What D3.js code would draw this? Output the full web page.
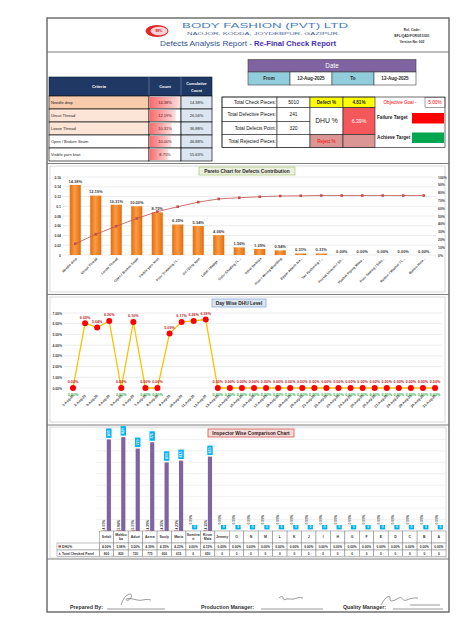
<!DOCTYPE html>
<html>
<head>
<meta charset="utf-8">
<script src="https://cdn.jsdelivr.net/npm/d3@7"></script>
<style>
  body { margin: 0; background: #fff; }
  svg { display: block; font-family: "Liberation Sans Narrow", "Liberation Sans", Arial, sans-serif; }
</style>
</head>
<body>
<script>
// ---------------- data ----------------
const fromDate = "12-Aug-2025";
const toDate = "12-Aug-2025";

const summaryLabels = ["Total Check Pieces:", "Total Defective Pieces:", "Total Defects Point:", "Total Rejected Pieces:"];
const summaryValues = ["5010", "241", "320", ""];
const defectPct = 4.81;
const dhuPct = 6.39;
const objectiveGoal = 5.00;

const defectNames = ["Needle drop", "Uncut Thread", "Loose Thread", "Open / Broken Seam", "Visible yarn knot",
  "Poor Trimming / L...", "Oil / Dirty spot", "Label / Badge ...", "Color Shading / L...", "Other Defects",
  "Poor / Wrong Moulding", "Zipper Attach Iss...", "Tan Puckering / ...", "Pocket Uneven / Sh...",
  "Placket Piping Wavy...", "Poor Sewing / Stitc...", "Button / Washer / L...", "Button Hole..."];
const defectShare = [14.38, 12.19, 10.31, 10.00, 8.75, 6.25, 5.94, 4.06, 1.56, 1.25, 0.94, 0.31, 0.31, 0, 0, 0, 0, 0];
const cumulativeShare = [14.38, 26.56, 36.88, 46.88, 55.63, 61.88, 67.81, 71.88, 73.44, 74.69, 75.63, 75.94, 76.25, 76.25, 76.25, 76.25, 76.25, 76.25];

const dayLabels = ["1-Aug-25", "2-Aug-25", "3-Aug-25", "4-Aug-25", "5-Aug-25", "6-Aug-25", "7-Aug-25", "8-Aug-25",
  "9-Aug-25", "10-Aug-25", "11-Aug-25", "12-Aug-25", "13-Aug-25", "14-Aug-25", "15-Aug-25", "16-Aug-25",
  "17-Aug-25", "18-Aug-25", "19-Aug-25", "20-Aug-25", "21-Aug-25", "22-Aug-25", "23-Aug-25", "24-Aug-25",
  "25-Aug-25", "26-Aug-25", "27-Aug-25", "28-Aug-25", "29-Aug-25", "30-Aug-25", "31-Aug-25"];
const dayDhu = [0, 6.05, 5.64, 6.26, 0, 6.16, 0, 0, 5.09, 6.17, 6.26, 6.39, 0, 0, 0, 0,
  0, 0, 0, 0, 0, 0, 0, 0, 0, 0, 0, 0, 0, 0, 0];

const inspectorNames = ["Sefali", "Mahbu\nba", "Aduri", "Asma", "Souly", "Maria", "Sumitra\nn", "Kiron\nMala",
  "Jemmy", "O", "N", "M", "L", "K", "J", "I", "H", "G", "F", "E", "D", "C", "B", "A"];
const inspectorDhu = [4.00, 5.98, 5.00, 4.39, 4.35, 4.23, 0, 4.15, 0, 0, 0, 0, 0, 0, 0, 0, 0, 0, 0, 0, 0, 0, 0, 0];
const inspectorChecked = [800, 820, 720, 775, 600, 615, 0, 650, 0, 0, 0, 0, 0, 0, 0, 0, 0, 0, 0, 0, 0, 0, 0, 0];

// ---------------- page ----------------
let svg = d3.select('body').append('svg')
  .attr('width', 474)
  .attr('height', 632);

let defs = svg.append('defs');
let barGrad = defs.append('linearGradient').attr('id', 'barGrad').attr('x1', 0).attr('x2', 1);
barGrad.append('stop').attr('offset', 0).attr('stop-color', '#e36c0a');
barGrad.append('stop').attr('offset', 0.45).attr('stop-color', '#fb9c48');
barGrad.append('stop').attr('offset', 1).attr('stop-color', '#e36c0a');
let dataBar = defs.append('linearGradient').attr('id', 'dataBar').attr('x1', 0).attr('x2', 1);
dataBar.append('stop').attr('offset', 0).attr('stop-color', '#f8696b');
dataBar.append('stop').attr('offset', 1).attr('stop-color', '#fde0e0');

function txt(g, x, y, s, o = {}) {
  return g.append('text')
    .attr('x', x).attr('y', y)
    .attr('font-size', o.size || 4)
    .attr('fill', o.fill || '#222')
    .attr('font-weight', o.bold ? 'bold' : null)
    .attr('text-anchor', o.anchor || 'middle')
    .text(s);
}
function cell(g, x, y, w, h, fill, stroke, sw) {
  return g.append('rect')
    .attr('x', x).attr('y', y).attr('width', w).attr('height', h)
    .attr('fill', fill || 'none')
    .attr('stroke', stroke || 'none')
    .attr('stroke-width', sw || 0.5);
}
const pct = v => v.toFixed(2) + '%';

// outer frame and section rules
cell(svg, 47, 18, 402, 594, 'none', '#595959', 1.3);
[52, 163.5, 294.5, 425, 559].forEach(y => {
  svg.append('line').attr('x1', 47).attr('x2', 449).attr('y1', y).attr('y2', y)
    .attr('stroke', '#7f7f7f').attr('stroke-width', 1.2);
});

// ---------------- header ----------------
let head = svg.append('g');
head.append('ellipse').attr('cx', 157).attr('cy', 31).attr('rx', 11.5).attr('ry', 6).attr('fill', '#e0262b');
head.append('ellipse').attr('cx', 159).attr('cy', 31).attr('rx', 8.5).attr('ry', 4.2).attr('fill', '#f7d3d4');
txt(head, 159, 32.4, 'BFL', { size: 3.6, bold: true, fill: '#e0262b' });

txt(head, 182, 28, 'BODY FASHION (PVT)  LTD', { size: 8, anchor: 'start', fill: '#4a7ebb' })
  .attr('textLength', 166).attr('lengthAdjust', 'spacingAndGlyphs');
txt(head, 187, 34.5, 'NAOJOR, KODDA, JOYDEBPUR, GAZIPUR.', { size: 4.2, anchor: 'start', fill: '#50689a' })
  .attr('textLength', 153).attr('lengthAdjust', 'spacingAndGlyphs');
txt(head, 160, 46, 'Defects Analysis Report - ', { size: 7, anchor: 'start', fill: '#2f4f8f' })
  .attr('textLength', 92).attr('lengthAdjust', 'spacingAndGlyphs');
txt(head, 254, 46, 'Re-Final Check Report', { size: 7, anchor: 'start', bold: true, fill: '#4630b0' })
  .attr('textLength', 82).attr('lengthAdjust', 'spacingAndGlyphs');

txt(head, 412, 31, 'Ref. Code:', { size: 3.3, bold: true, fill: '#333' });
txt(head, 412, 37, 'BFL/QAD/FOR/051/001', { size: 3.3, bold: true, fill: '#333' });
txt(head, 412, 43, 'Version No: 002', { size: 3.3, bold: true, fill: '#333' });

// date block
let dateG = svg.append('g');
cell(dateG, 248, 59.5, 168, 12.5, '#8064a2', '#3f3f3f', 0.6);
txt(dateG, 332, 68, 'Date', { size: 6.3, fill: '#fff' });
[[248, 'From', '#92cddc'], [290, fromDate, '#fff'], [332, 'To', '#92cddc'], [374, toDate, '#fff']].forEach(d => {
  cell(dateG, d[0], 72, 42, 13, d[2], '#3f3f3f', 0.6);
  txt(dateG, d[0] + 21, 80, d[1], { size: 4.6, bold: true, fill: '#1f1f1f' });
});

// ---------------- criteria table ----------------
let crit = svg.append('g');
const critFill = ['#f8cbad', '#fce4d6', '#fce4d6', '#ffffff', '#ffffff'];
const topCriteria = defectNames.slice(0, 5);
const topShare = defectShare.slice(0, 5);
const topCum = cumulativeShare.slice(0, 5);
let dataBarScale = d3.scaleLinear().domain([0, d3.max(topShare)]).range([0, 31]);

cell(crit, 49, 77, 163, 19, '#1f3864', '#0d1d3a', 0.6);
[149, 181].forEach(x => crit.append('line').attr('x1', x).attr('x2', x).attr('y1', 77).attr('y2', 96)
  .attr('stroke', '#8ea0c0').attr('stroke-width', 0.5));
txt(crit, 99, 88, 'Criteria', { size: 4, bold: true, fill: '#fff' });
txt(crit, 165, 88, 'Count', { size: 4, bold: true, fill: '#fff' });
txt(crit, 196.5, 85, 'Cumulative', { size: 3.8, bold: true, fill: '#fff' });
txt(crit, 196.5, 91.5, 'Count', { size: 3.8, bold: true, fill: '#fff' });

topCriteria.forEach((name, i) => {
  let y = 96 + i * 13;
  cell(crit, 49, y, 100, 13, critFill[i], '#111', 0.7);
  txt(crit, 51, y + 8, name, { size: 4, anchor: 'start', fill: '#222' });
  cell(crit, 149, y, 32, 13, '#fff', '#111', 0.7);
  cell(crit, 149.5, y + 1, dataBarScale(topShare[i]), 11, 'url(#dataBar)');
  txt(crit, 165, y + 8, pct(topShare[i]), { size: 4, fill: '#5a1010' });
  cell(crit, 181, y, 31, 13, '#dce6f1', '#111', 0.7);
  txt(crit, 196.5, y + 8, pct(topCum[i]), { size: 4, fill: '#222' });
});

// ---------------- summary block ----------------
let sum = svg.append('g');
const rowsY = [97, 107.5, 121.5, 134.5, 147.5];
summaryLabels.forEach((lab, i) => {
  let y = rowsY[i], h = rowsY[i + 1] - rowsY[i];
  cell(sum, 222, y, 55, h, '#fff', '#222', 0.6);
  txt(sum, 276, y + h / 2 + 1.7, lab, { size: 4.8, anchor: 'end', fill: '#111' });
  cell(sum, 277, y, 33, h, '#fff', '#222', 0.6);
  txt(sum, 293.5, y + h / 2 + 1.7, summaryValues[i], { size: 4.8, fill: '#111' });
});
cell(sum, 310, 97, 33, 10.5, '#ffff00', '#222', 0.6);
txt(sum, 326.5, 103.9, 'Defect %', { size: 4.6, bold: true, fill: '#222' });
cell(sum, 343, 97, 32, 10.5, '#ffff00', '#222', 0.6);
txt(sum, 359, 103.9, pct(defectPct), { size: 4.6, bold: true, fill: '#222' });
txt(sum, 400, 103.9, 'Objective Goal -', { size: 4.6, fill: '#ff0000' });
cell(sum, 425, 97.5, 20, 10, '#fff', '#444', 0.5);
txt(sum, 435, 104, pct(objectiveGoal), { size: 4.8, fill: '#ff0000' });

cell(sum, 310, 107.5, 33, 27, '#fff', '#222', 0.6);
txt(sum, 326.5, 123.2, 'DHU %', { size: 6.8, fill: '#222' });
cell(sum, 343, 107.5, 32, 27, '#f4585a', '#222', 0.6);
txt(sum, 359, 123, pct(dhuPct), { size: 5.2, fill: '#fff' });

txt(sum, 377, 118.5, 'Failure Target', { size: 4.7, anchor: 'start', bold: true, fill: '#222' });
cell(sum, 412, 113, 32, 10.5, '#ff0000');
txt(sum, 377, 139, 'Achieve Target', { size: 4.7, anchor: 'start', bold: true, fill: '#222' });
cell(sum, 412, 132.5, 32, 10.5, '#00a550');

cell(sum, 310, 134.5, 33, 13, '#da9694', '#222', 0.6);
txt(sum, 326.5, 142.6, 'Reject %', { size: 4.6, fill: '#ff0000' });
cell(sum, 343, 134.5, 32, 13, '#da9694', '#222', 0.6);
cell(sum, 222, 97, 223, 50.5, 'none', '#333', 0.7);

// ---------------- pareto chart ----------------
let par = svg.append('g');
cell(par, 50, 166, 395, 126, '#fff', '#bfbfbf', 0.6);

let pX = d3.scaleBand().domain(defectNames).range([65, 434]).paddingInner(0.46).paddingOuter(0.23);
let pYL = d3.scaleLinear().domain([0, 0.16]).range([255, 177]);
let pYR = d3.scaleLinear().domain([0, 1]).range([255, 177]);

par.append('g').selectAll('line').data(pYL.ticks(8)).enter().append('line')
  .attr('x1', 63).attr('x2', 436)
  .attr('y1', d => pYL(d)).attr('y2', d => pYL(d))
  .attr('stroke', '#d9d9d9').attr('stroke-width', 0.5);

let pAxisL = par.append('g').attr('transform', 'translate(63,0)')
  .call(d3.axisLeft(pYL).ticks(8).tickSize(0).tickPadding(2).tickFormat(d => String(+d.toFixed(2))));
let pAxisR = par.append('g').attr('transform', 'translate(436,0)')
  .call(d3.axisRight(pYR).ticks(10).tickSize(0).tickPadding(2).tickFormat(d3.format('.0%')));
[pAxisL, pAxisR].forEach(a => {
  a.select('.domain').remove();
  a.selectAll('text').attr('font-size', 3.4).attr('font-weight', 'bold').attr('fill', '#404040').attr('font-family', null);
});

par.selectAll('rect.bar').data(defectShare).enter().append('rect')
  .attr('class', 'bar')
  .attr('x', (d, i) => pX(defectNames[i]))
  .attr('y', d => pYL(d / 100))
  .attr('width', pX.bandwidth())
  .attr('height', d => pYL(0) - pYL(d / 100))
  .attr('fill', 'url(#barGrad)');

par.selectAll('text.blab').data(defectShare).enter().append('text')
  .attr('class', 'blab')
  .attr('x', (d, i) => pX(defectNames[i]) + pX.bandwidth() / 2)
  .attr('y', d => pYL(d / 100) - 2.2)
  .attr('text-anchor', 'middle').attr('font-size', 4).attr('font-weight', 'bold').attr('fill', '#404040')
  .text(d => pct(d));

let cumLine = d3.line()
  .x((d, i) => pX(defectNames[i]) + pX.bandwidth() / 2)
  .y(d => pYR(d / 100));
par.append('path').attr('d', cumLine(cumulativeShare))
  .attr('fill', 'none').attr('stroke', '#c0504d').attr('stroke-width', 0.8);
par.selectAll('rect.cm').data(cumulativeShare).enter().append('rect')
  .attr('class', 'cm')
  .attr('x', (d, i) => pX(defectNames[i]) + pX.bandwidth() / 2 - 1.3)
  .attr('y', d => pYR(d / 100) - 1.3)
  .attr('width', 2.6).attr('height', 2.6)
  .attr('fill', '#c0504d');

par.selectAll('text.xl').data(defectNames).enter().append('text')
  .attr('class', 'xl')
  .attr('transform', d => `translate(${pX(d) + pX.bandwidth() / 2 + 2},259) rotate(-45)`)
  .attr('text-anchor', 'end').attr('font-size', 3.4).attr('font-weight', 'bold').attr('fill', '#404040')
  .text(d => d);

cell(par, 199, 167, 96, 8, '#ebf1de', '#9bbb59', 0.6);
txt(par, 247, 172.8, 'Pareto Chart for Defects Contribution', { size: 4.8, bold: true, fill: '#1f1f1f' });

// ---------------- day wise DHU ----------------
let day = svg.append('g');
cell(day, 50, 297, 395, 125, '#fff', '#bfbfbf', 0.6);

let dX = d3.scalePoint().domain(dayLabels).range([73, 435]);
let dY = d3.scaleLinear().domain([0, 7]).range([388, 313]);

day.append('g').selectAll('line').data(dY.ticks(7)).enter().append('line')
  .attr('x1', 64).attr('x2', 442)
  .attr('y1', d => dY(d)).attr('y2', d => dY(d))
  .attr('stroke', '#d9d9d9').attr('stroke-width', 0.5);
let dAxis = day.append('g').attr('transform', 'translate(64,0)')
  .call(d3.axisLeft(dY).ticks(7).tickSize(0).tickPadding(2).tickFormat(d => d.toFixed(2) + '%'));
dAxis.select('.domain').remove();
dAxis.selectAll('text').attr('font-size', 3.4).attr('fill', '#404040').attr('font-weight', 'bold').attr('font-family', null);

let dhuLine = d3.line()
  .x((d, i) => dX(dayLabels[i]))
  .y(d => dY(d));
day.append('path').attr('d', dhuLine(dayDhu))
  .attr('fill', 'none').attr('stroke', '#ffc000').attr('stroke-width', 1.3);
day.selectAll('circle').data(dayDhu).enter().append('circle')
  .attr('cx', (d, i) => dX(dayLabels[i]))
  .attr('cy', d => dY(d))
  .attr('r', 3)
  .attr('fill', '#ff0000');
day.selectAll('text.dl').data(dayDhu).enter().append('text')
  .attr('class', 'dl')
  .attr('x', (d, i) => dX(dayLabels[i]))
  .attr('y', d => dY(d) - 4.6)
  .attr('text-anchor', 'middle').attr('font-size', 3.7).attr('font-weight', 'bold').attr('fill', '#c0282d')
  .text(d => pct(d));
day.selectAll('text.gl').data(dayDhu.map((d, i) => [d, i]).filter(p => p[0] === 0)).enter().append('text')
  .attr('class', 'gl')
  .attr('x', p => dX(dayLabels[p[1]]))
  .attr('y', p => dY(p[0]) + 7.6)
  .attr('text-anchor', 'middle').attr('font-size', 3.7).attr('font-weight', 'bold').attr('fill', '#33b34a')
  .text(p => pct(p[0]));
day.selectAll('text.xl').data(dayLabels).enter().append('text')
  .attr('class', 'xl')
  .attr('transform', d => `translate(${dX(d) + 1},396) rotate(-45)`)
  .attr('text-anchor', 'end').attr('font-size', 3.5).attr('font-weight', 'bold').attr('fill', '#404040')
  .text(d => d);

cell(day, 212, 299, 54, 8, '#dce6f1', '#8eaadb', 0.8);
txt(day, 239, 304.8, 'Day Wise DHU Level', { size: 4.8, bold: true, fill: '#1f1f1f' });

// ---------------- inspector wise ----------------
let ins = svg.append('g');
cell(ins, 50, 427, 396, 131, '#fff', '#bfbfbf', 0.6);

let iX = d3.scaleBand().domain(inspectorNames).range([99.3, 446]);
let iSub = d3.scaleBand().domain(['dhu', 'checked']).range([0, iX.bandwidth()]).paddingInner(0.1).paddingOuter(0.6);
let iY = d3.scaleLinear().domain([0, 900]).range([531, 428]);

ins.append('g').selectAll('line').data(iY.ticks(9)).enter().append('line')
  .attr('x1', 96).attr('x2', 445)
  .attr('y1', d => iY(d)).attr('y2', d => iY(d))
  .attr('stroke', '#e3e3e3').attr('stroke-width', 0.5);

const subX = (i, key) => iX(inspectorNames[i]) + iSub(key);
const subC = (i, key) => subX(i, key) + iSub.bandwidth() / 2;

ins.selectAll('rect.dhu').data(inspectorDhu).enter().append('rect')
  .attr('class', 'dhu')
  .attr('x', (d, i) => subX(i, 'dhu'))
  .attr('y', d => iY(d))
  .attr('width', iSub.bandwidth())
  .attr('height', d => iY(0) - iY(d))
  .attr('fill', '#c0504d');
ins.selectAll('rect.chk').data(inspectorChecked).enter().append('rect')
  .attr('class', 'chk')
  .attr('x', (d, i) => subX(i, 'checked'))
  .attr('y', d => iY(d))
  .attr('width', iSub.bandwidth())
  .attr('height', d => iY(0) - iY(d))
  .attr('fill', '#8064a2');

// checked labels: blue callouts
inspectorChecked.forEach((v, i) => {
  let cx = subC(i, 'checked');
  if (v > 0) {
    let top = iY(v);
    cell(ins, cx - 2.7, top - 11, 5.4, 9.4, '#00b0f0');
    ins.append('text')
      .attr('transform', `translate(${cx + 1.2},${top - 6.3}) rotate(-90)`)
      .attr('text-anchor', 'middle').attr('font-size', 3.4).attr('font-weight', 'bold').attr('fill', '#fff')
      .text(v);
  } else {
    let c = iX(inspectorNames[i]) + iX.bandwidth() / 2 + 1.5;
    cell(ins, c - 2.6, iY(0) - 6, 5.2, 4.4, '#00b0f0');
    txt(ins, c, iY(0) - 2.6, v, { size: 3, bold: true, fill: '#fff' });
  }
});
// DHU labels, rotated
inspectorDhu.forEach((v, i) => {
  let cx = subC(i, 'dhu');
  ins.append('text')
    .attr('transform', `translate(${cx + 1.2},${v > 0 ? iY(0) - 1.5 : iY(0) - 6.5}) rotate(-90)`)
    .attr('text-anchor', 'start').attr('font-size', 3.4).attr('font-weight', 'bold').attr('fill', '#404040')
    .text(pct(v));
});

// data table under the chart
inspectorNames.forEach((name, i) => {
  let x = iX(name), w = iX.bandwidth();
  cell(ins, x, 531, w, 12, '#fff', '#7f7f7f', 0.5);
  let lines = name.split('\n');
  lines.forEach((ln, k) => {
    txt(ins, x + w / 2, 538.2 + (k - (lines.length - 1) / 2) * 4, ln, { size: 3.5, bold: true, fill: '#333' });
  });
  cell(ins, x, 543, w, 7, '#fff', '#7f7f7f', 0.5);
  txt(ins, x + w / 2, 547.8, pct(inspectorDhu[i]), { size: 3.2, bold: true, fill: '#333' });
  cell(ins, x, 550, w, 6.5, '#fff', '#7f7f7f', 0.5);
  txt(ins, x + w / 2, 554.5, inspectorChecked[i], { size: 3.2, bold: true, fill: '#333' });
});
cell(ins, 57, 543, 42.3, 7, '#fff', '#7f7f7f', 0.5);
cell(ins, 57, 550, 42.3, 6.5, '#fff', '#7f7f7f', 0.5);
cell(ins, 58.5, 545.3, 2.4, 2.4, '#c0504d');
txt(ins, 62, 547.8, 'DHU%', { size: 3.3, bold: true, anchor: 'start', fill: '#333' });
ins.append('path').attr('d', 'M58.5,554.7L59.7,552.2L60.9,554.7Z').attr('fill', '#8064a2');
txt(ins, 62, 554.5, 'Total Checked Panel', { size: 3.3, bold: true, anchor: 'start', fill: '#333' });

cell(ins, 208, 429, 86, 8, '#f2dcdb', '#d9534f', 0.8);
txt(ins, 251, 434.8, 'Inspector Wise Comparison Chart', { size: 4.8, bold: true, fill: '#3a1414' });

// ---------------- sign-off ----------------
let foot = svg.append('g');
[[70, 107, 165, 'Prepared By:'], [201, 261, 323, 'Production Manager:'], [343, 393, 443, 'Quality Manager:']]
  .forEach(f => {
    txt(foot, f[0], 608.5, f[3], { size: 5.3, bold: true, anchor: 'start', fill: '#333' });
    foot.append('line').attr('x1', f[1]).attr('x2', f[2]).attr('y1', 609).attr('y2', 609)
      .attr('stroke', '#333').attr('stroke-width', 0.5);
  });
let scribble = d3.line().curve(d3.curveBasis);
[
  [[121, 605], [124, 597], [130, 593], [133, 596], [127, 602], [125, 598], [134, 599], [140, 601], [146, 599], [151, 600]],
  [[279, 598], [283, 595], [283, 601], [288, 598], [293, 600], [298, 597], [303, 598]],
  [[381, 605], [385, 598], [391, 595], [389, 602], [396, 600], [401, 596], [404, 602], [410, 598], [418, 598]],
  [[410, 605], [440, 605]]
].forEach(p => {
  foot.append('path').attr('d', scribble(p)).attr('fill', 'none')
    .attr('stroke', '#555').attr('stroke-width', 0.6);
});
</script>
</body>
</html>
